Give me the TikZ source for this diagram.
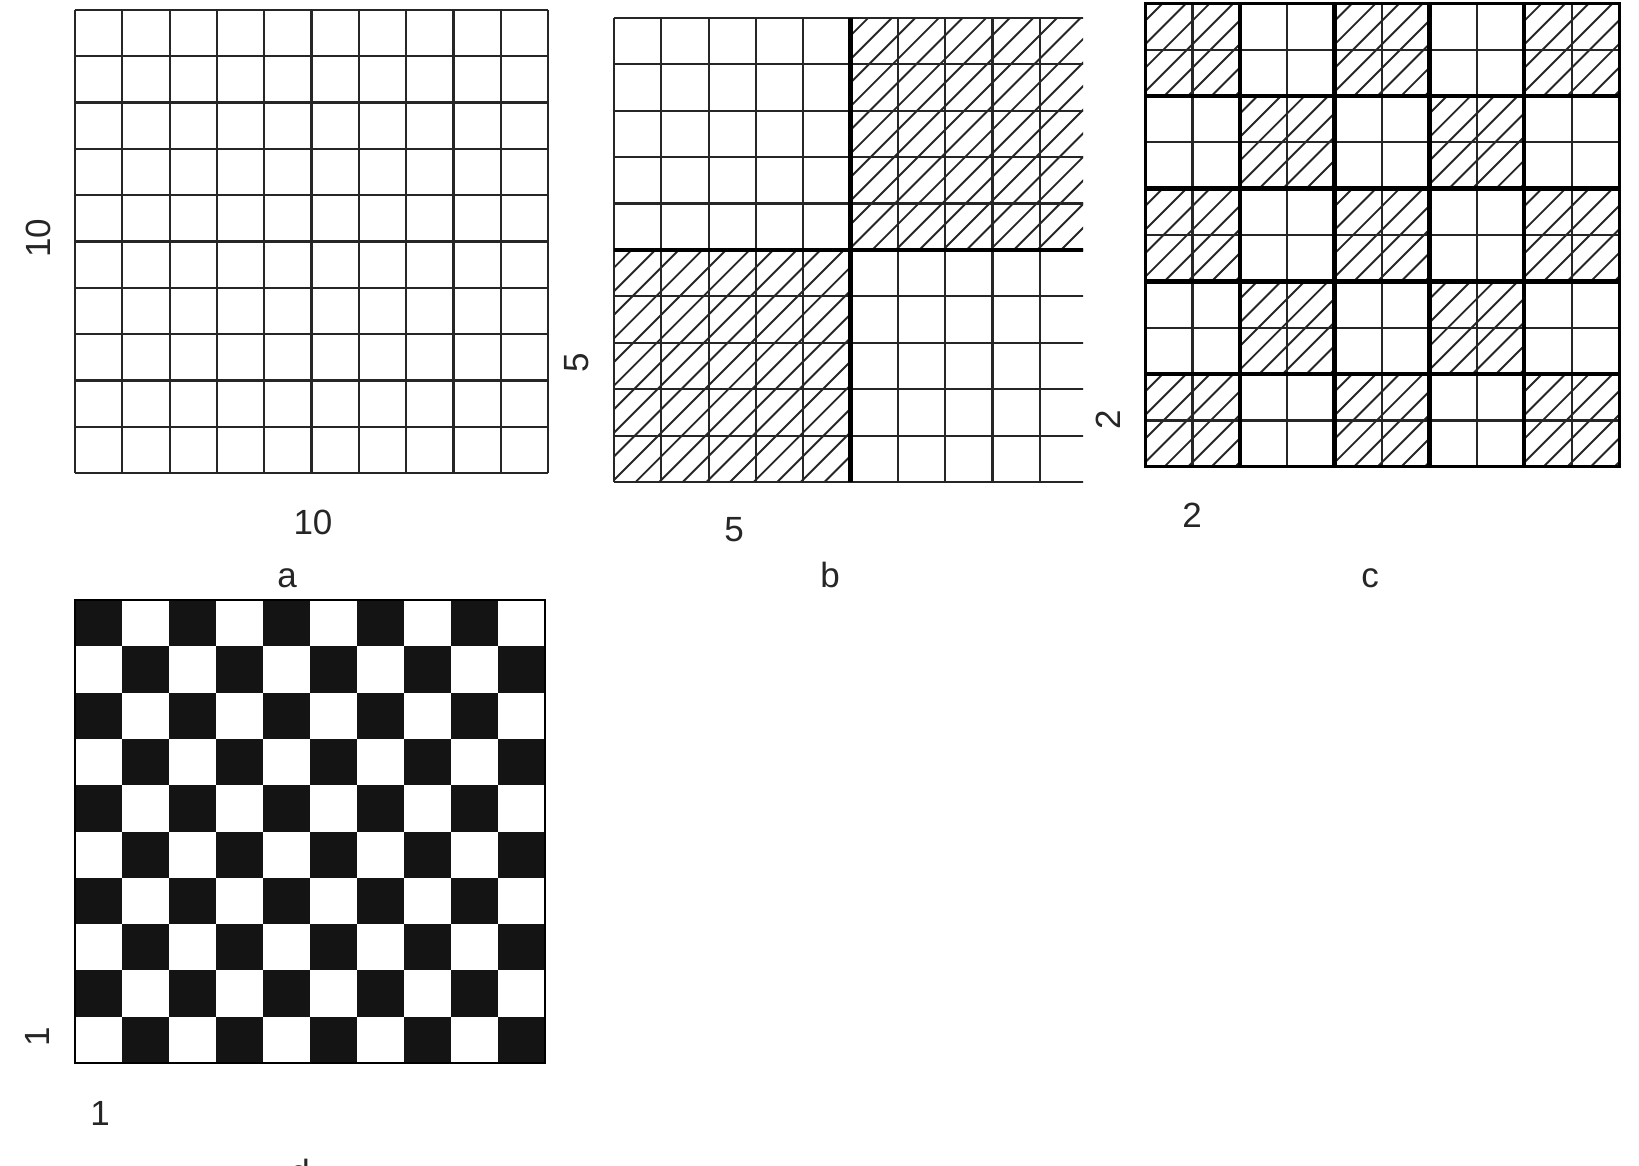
\documentclass[tikz,border=0pt]{standalone}
\usepackage{fontspec}
\setmainfont{Liberation Sans}
\begin{document}
\begin{tikzpicture}[x=1pt,y=-1pt,
  gridln/.style={line width=2.2pt, black!85},
  heavyln/.style={line width=4.5pt, black},
  hatchln/.style={line width=1.9pt, black!85},
  lbl/.style={font=\fontsize{35}{42}\selectfont, text=black!85, inner sep=0pt}]
\useasboundingbox (0,0) rectangle (1639,1166);
\fill[white] (0,0) rectangle (1639,1166);

% hatch helper: #1 x0, #2 y0, #3 x1, #4 y1
\def\hatchbox#1#2#3#4{%
  \begin{scope}
    \clip (#1,#2) rectangle (#3,#4);
    \pgfmathsetmacro{\hh}{#4-#2}
    \pgfmathsetmacro{\ww}{#3-#1}
    \pgfmathtruncatemacro{\nn}{(\hh+\ww)/23.6+2}
    \foreach \k in {0,...,\nn}{
      \draw[hatchln] ({#1-\hh+\k*23.6-6},#4) -- ++({\hh+10},{-\hh-10});
    }
  \end{scope}}

% ---------- panel a ----------
\foreach \i in {0,...,10}{
  \draw[gridln] ({75+\i*47.3},10) -- ({75+\i*47.3},473);
  \draw[gridln] (75,{10+\i*46.3}) -- (548,{10+\i*46.3});
}
\node[lbl, rotate=90] (la1) at (38,238) {10};
\node[lbl] (la2) at (313,522) {10};
\node[lbl, anchor=base] (capa) at (287,587) {a};

% ---------- panel b ----------
\begin{scope}
  \clip (600,0) rectangle (1083,500);
  \hatchbox{850.5}{18}{1090}{250}
  \hatchbox{614}{250}{850.5}{482}
  \foreach \i in {0,...,10}{
    \draw[gridln] ({614+\i*47.3},18) -- ({614+\i*47.3},482);
    \draw[gridln] (614,{18+\i*46.4}) -- (1090,{18+\i*46.4});
  }
  \draw[heavyln] (850.5,18) -- (850.5,482);
  \draw[heavyln] (614,250) -- (1090,250);
\end{scope}
\node[lbl, rotate=90] (lb1) at (577,363) {5};
\node[lbl] (lb2) at (734,530) {5};
\node[lbl, anchor=base] (capb) at (830,587) {b};

% ---------- panel c ----------
\foreach \bi in {0,...,4}{
  \foreach \bj in {0,...,4}{
    \pgfmathtruncatemacro{\parity}{mod(\bi+\bj,2)}
    \ifnum\parity=0
      \pgfmathsetmacro{\cxa}{1145+\bj*94.8}
      \pgfmathsetmacro{\cxb}{1145+(\bj+1)*94.8}
      \pgfmathsetmacro{\cya}{3.3+\bi*92.7}
      \pgfmathsetmacro{\cyb}{3.3+(\bi+1)*92.7}
      \hatchbox{\cxa}{\cya}{\cxb}{\cyb}
    \fi
  }
}
\foreach \i in {0,...,10}{
  \draw[gridln] ({1145+\i*47.4},3.3) -- ({1145+\i*47.4},466.8);
  \draw[gridln] (1145,{3.3+\i*46.35}) -- (1619,{3.3+\i*46.35});
}
\foreach \i in {2,4,6,8}{
  \draw[heavyln] ({1145+\i*47.4},3.3) -- ({1145+\i*47.4},466.8);
  \draw[heavyln] (1145,{3.3+\i*46.35}) -- (1619,{3.3+\i*46.35});
}
\draw[line width=3pt] (1145,3.3) rectangle (1619,466.8);
\node[lbl, rotate=90] (lc1) at (1108,420) {2};
\node[lbl] (lc2) at (1192,515) {2};
\node[lbl, anchor=base] (capc) at (1370,587) {c};

% ---------- panel d ----------
\foreach \i in {0,...,9}{
  \foreach \j in {0,...,9}{
    \pgfmathtruncatemacro{\parity}{mod(\i+\j,2)}
    \ifnum\parity=0
      \fill[black!92] ({75+\j*47},{600+\i*46.3}) rectangle ++(47,46.3);
    \fi
  }
}
\draw[line width=2.2pt] (75,600) rectangle (545,1063);
\node[lbl, rotate=90] (ld1) at (37,1037) {1};
\node[lbl] (ld2) at (100,1113) {1};
\node[lbl, anchor=base] (capd) at (300,1184) {d};
\end{tikzpicture}
\end{document}
